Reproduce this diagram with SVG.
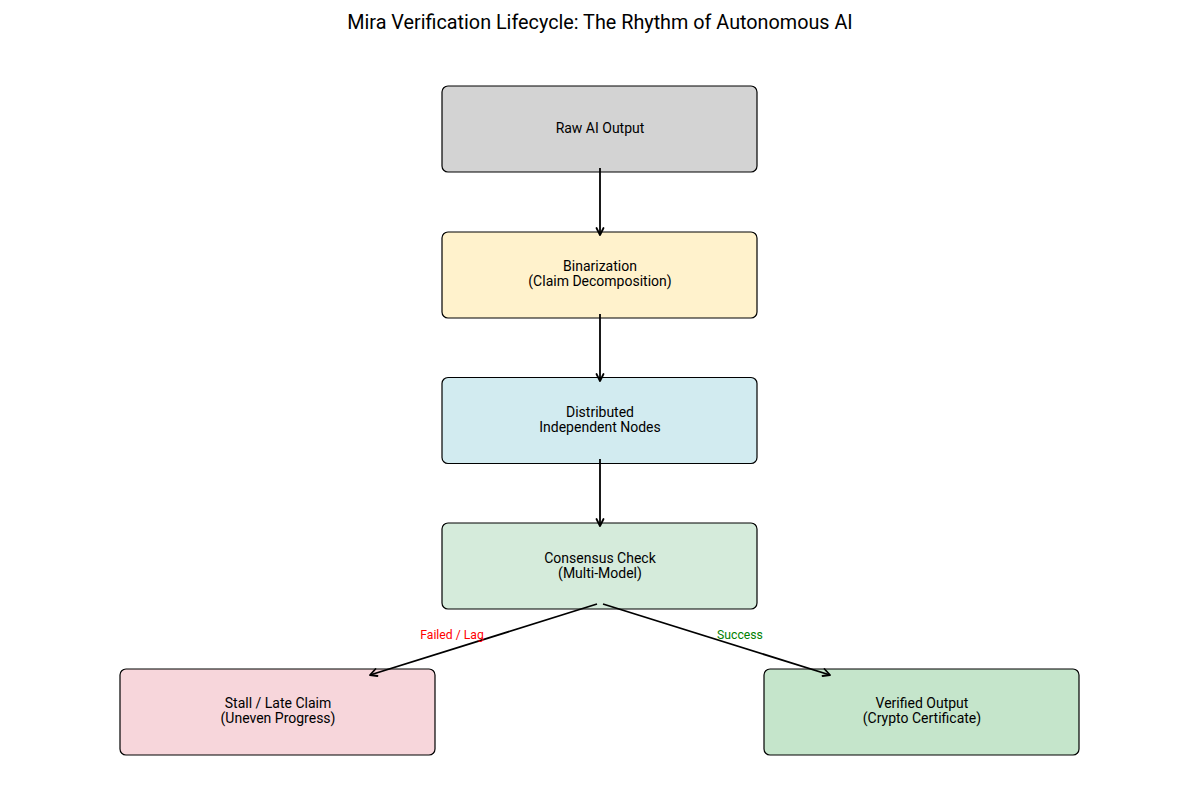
<svg xmlns="http://www.w3.org/2000/svg" width="1200" height="800" viewBox="0 0 1200 800">
<style>
.box{stroke:#000;stroke-width:1.2}
.t{font-family:Roboto,"Open Sans","Liberation Sans",sans-serif;font-size:14px;fill:#000;text-anchor:middle}
.title{font-family:Roboto,"Open Sans","Liberation Sans",sans-serif;font-size:19.8px;fill:#000;text-anchor:middle}
.lbl{font-family:Roboto,"Open Sans","Liberation Sans",sans-serif;font-size:12.2px;text-anchor:middle}
.c{stroke:#000;stroke-width:1.8;fill:none}
.h{stroke:#000;stroke-width:1.8;fill:none;stroke-linecap:round;stroke-linejoin:round}
</style>
<rect width="1200" height="800" fill="#fff"/>
<text class="title" x="600" y="29">Mira Verification Lifecycle: The Rhythm of Autonomous AI</text>
<g id="raw"><rect class="box" x="442" y="86" width="315" height="86" rx="6" fill="#d3d3d3"/><text class="t" x="600" y="133">Raw AI Output</text></g>
<g id="binarization"><rect class="box" x="442" y="232" width="315" height="86" rx="6" fill="#fff2cc"/><text class="t" x="600" y="271">Binarization</text><text class="t" x="600" y="286">(Claim Decomposition)</text></g>
<g id="distributed"><rect class="box" x="442" y="377.5" width="315" height="86" rx="6" fill="#d2ebf0"/><text class="t" x="600" y="417">Distributed</text><text class="t" x="600" y="432">Independent Nodes</text></g>
<g id="consensus"><rect class="box" x="442" y="523" width="315" height="86" rx="6" fill="#d5ebdb"/><text class="t" x="600" y="563">Consensus Check</text><text class="t" x="600" y="578">(Multi-Model)</text></g>
<g id="stall"><rect class="box" x="120" y="669" width="315" height="86" rx="6" fill="#f7d6db"/><text class="t" x="278" y="708">Stall / Late Claim</text><text class="t" x="278" y="723">(Uneven Progress)</text></g>
<g id="verified"><rect class="box" x="764" y="669" width="315" height="86" rx="6" fill="#c5e5cb"/><text class="t" x="922" y="708">Verified Output</text><text class="t" x="922" y="723">(Crypto Certificate)</text></g>
<g id="connectors">
<line class="c" x1="600" y1="168" x2="600" y2="235"/><path class="h" d="M596.5,228 L600,235 L603.5,228"/>
<line class="c" x1="600" y1="314" x2="600" y2="381"/><path class="h" d="M596.5,374 L600,381 L603.5,374"/>
<line class="c" x1="600" y1="459" x2="600" y2="526"/><path class="h" d="M596.5,519 L600,526 L603.5,519"/>
<line class="c" x1="597" y1="604" x2="370" y2="675"/><path class="h" d="M375.5,669 L370,675 L377.5,676"/>
<line class="c" x1="603" y1="604" x2="830" y2="675"/><path class="h" d="M824.5,669 L830,675 L822.5,676"/>
<text class="lbl" x="452" y="639" fill="#ff0000">Failed / Lag</text>
<text class="lbl" x="740" y="639" fill="#008000">Success</text>
</g>
</svg>
